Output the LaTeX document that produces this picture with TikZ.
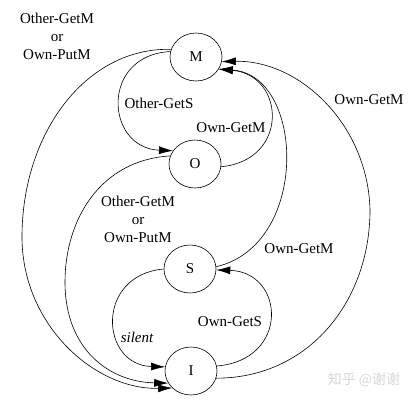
\documentclass[tikz,border=0pt]{standalone}
\usepackage{fontspec}
\setmainfont{Liberation Serif}
\newfontfamily\cjk{Noto Sans CJK SC}
\usetikzlibrary{arrows.meta,shapes.geometric}
\begin{document}
\begin{tikzpicture}[x=1pt,y=1pt,
  state/.style={draw,line width=0.6pt,ellipse,minimum width=52pt,minimum height=48pt,inner sep=0pt,font=\fontsize{15}{18}\selectfont},
  lbl/.style={font=\fontsize{15}{18}\selectfont,align=center,inner sep=0pt},
  edge/.style={line width=0.6pt,-{Latex[length=14pt,width=8pt]}},
  wmark/.style={font=\cjk\fontsize{14}{14}\selectfont,text=black!16,inner sep=0pt}]
\useasboundingbox (0,0) rectangle (411,-400);
\fill[white] (0,0) rectangle (411,-400);
\node[state] (M) at (196,-57) {M};
\node[state] (O) at (195,-164) {O};
\node[state] (S) at (190,-269) {S};
\node[state] (I) at (191,-371) {I};
% M -> I (outer left)
\draw[edge] (M.163) .. controls (87,-47) and (22,-132) .. (22,-237)
  .. controls (22,-325) and (95,-390) .. (I.222);
% M -> O
\draw[edge] (M.168) .. controls (100,-55) and (105,-148) .. (O.149);
% O -> M
\draw[edge] (O.354) .. controls (290,-160) and (285,-75) .. (M.332);
% S -> M
\draw[edge] (S.5) .. controls (310,-245) and (305,-75) .. (M.332);
% O -> I
\draw[edge] (O.162) .. controls (100,-160) and (65,-220) .. (65,-282)
  .. controls (65,-350) and (110,-382) .. (I.208);
% S -> I silent
\draw[edge] (S.180) .. controls (95,-275) and (100,-365) .. (I.171);
% I -> S
\draw[edge] (I.11) .. controls (290,-360) and (285,-272) .. (S.358);
% I -> M outer right
\draw[edge] (I.344) .. controls (310,-378) and (370,-300) .. (370,-210)
  .. controls (368,-125) and (300,-60) .. (M.350);
% labels
\node[lbl] (l1) at (57,-36) {Other-GetM\\or\\Own-PutM};
\node[lbl] (l2) at (159,-103) {Other-GetS};
\node[lbl] (l3) at (231,-128) {Own-GetM};
\node[lbl] (l4) at (369,-100) {Own-GetM};
\node[lbl] (l5) at (138,-219) {Other-GetM\\or\\Own-PutM};
\node[lbl] (l6) at (299,-249) {Own-GetM};
\node[lbl] (l7) at (230,-322) {Own-GetS};
\node[lbl] (l8) at (137,-337) {\itshape silent};
\node[wmark] (wm) at (364,-380) {知乎 @谢谢};
\end{tikzpicture}
\end{document}
